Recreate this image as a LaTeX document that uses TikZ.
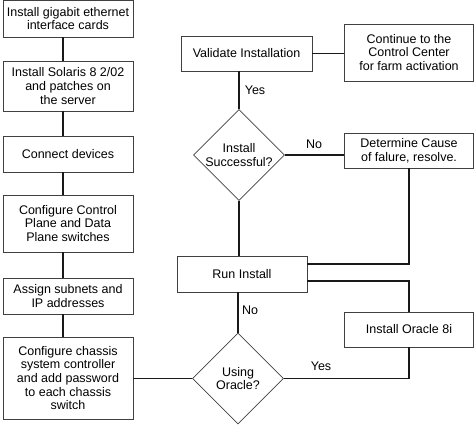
\documentclass[tikz,border=0pt]{standalone}
\usepackage{fontspec}
\setmainfont{Liberation Sans}
\usetikzlibrary{shapes.geometric}
\tikzset{box/.style={draw=black!75, line width=0.7pt, rectangle, minimum width=130pt, inner sep=0pt, align=center, font=\fontsize{12.5}{13.6}\selectfont}}
\tikzset{decision/.style={draw=black!75, line width=0.7pt, diamond, minimum width=91pt, minimum height=91pt, inner sep=-1.5pt, align=center, font=\fontsize{12.5}{13.6}\selectfont}}
\tikzset{link/.style={line width=1.2pt, black!90}}
\tikzset{lbl/.style={font=\fontsize{12.5}{14}\selectfont, inner sep=0pt}}

\begin{document}
\begin{tikzpicture}[x=1pt,y=-1pt]
    \useasboundingbox (0,0) rectangle (474,425);
    %left column
    \node[box, minimum height=37pt] (b1) at (68,18.5) {Install gigabit ethernet\\interface cards};
    \node[box, minimum height=50pt] (b2) at (68,86) {Install Solaris 8 2/02\\and patches on\\the server};
    \node[box, minimum height=36pt] (b3) at (68,154) {Connect devices};
    \node[box, minimum height=57pt] (b4) at (68,223.5) {Configure Control\\Plane and Data\\Plane switches};
    \node[box, minimum height=36pt] (b5) at (68,296) {Assign subnets and\\IP addresses};
    \node[box, minimum height=82pt] (b6) at (68,378) {Configure chassis\\system controller\\and add password\\to each chassis\\switch};
    %right part
    \node[box, minimum width=131pt, minimum height=35pt] (val) at (246.5,53.5) {Validate Installation};
    \node[box, minimum width=129pt, minimum height=57pt] (cont) at (409,52.5) {Continue to the\\Control Center\\for farm activation};
    \node[decision] (d1) at (239,155) {Install\\Successful?};
    \node[box, minimum width=129pt, minimum height=35pt] (det) at (409,150.5) {Determine Cause\\of falure, resolve.};
    \node[box, minimum height=36pt] (run) at (242,274) {Run Install};
    \node[box, minimum width=129pt, minimum height=35pt] (ora) at (409,329.5) {Install Oracle 8i};
    \node[decision] (d2) at (238,378.5) {Using\\Oracle?};
    %labels
    \node[lbl] (yes1) at (255,90) {Yes};
    \node[lbl] (no1) at (314,144) {No};
    \node[lbl] (no2) at (250,310) {No};
    \node[lbl] (yes2) at (321,366) {Yes};
    %connectors
    \draw[link] ([xshift=-5pt]b1.south) -- ([xshift=-5pt]b2.north);
    \draw[link] ([xshift=-5pt]b2.south) -- ([xshift=-5pt]b3.north);
    \draw[link] ([xshift=-5pt]b3.south) -- ([xshift=-5pt]b4.north);
    \draw[link] ([xshift=-5pt]b4.south) -- ([xshift=-5pt]b5.north);
    \draw[link] ([xshift=-5pt]b5.south) -- ([xshift=-5pt]b6.north);
    \draw[link] (d2.west) -- (d2.west -| b6.east);
    \draw[link] (val.south -| d1.north) -- (d1.north);
    \draw[link] (val.east) -- (val.east -| cont.west);
    \draw[link] (d1.east) -- (d1.east -| det.west);
    \draw[link] (d1.south) -- (d1.south |- run.north);
    \draw[link] (det.south) |- ([yshift=10pt]run.east);
    \draw[link] ([yshift=-7pt]run.east) -| (ora.north);
    \draw[link] (ora.south) |- (d2.east);
    \draw[link] (d2.north) -- (d2.north |- run.south);
\end{tikzpicture}
\end{document}
